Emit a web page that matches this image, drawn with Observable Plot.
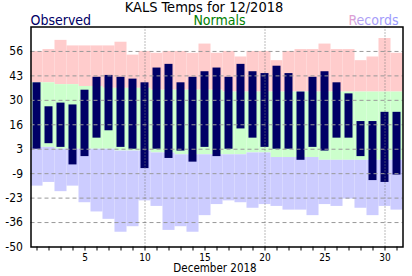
<!DOCTYPE html>
<html>
<head>
<meta charset="utf-8">
<script src="https://cdn.jsdelivr.net/npm/d3@7"></script>
<script src="https://cdn.jsdelivr.net/npm/@observablehq/plot@0.6"></script>
<style>
  html, body { margin: 0; padding: 0; background: #fff; }
  #chart { width: 412px; height: 276px; }
</style>
</head>
<body>
<div id="chart"></div>
<script>
// ---- data ----
const days = d3.range(1, 32);
const obsHigh = [39,26,28,27,35,42,43,42,41,39,47,49,39,42,45,47,42,49,45,44,48,44,34,42,45,39,33,18,18,23,23];
const obsLow  = [3,6,4,-5.5,-1,9,13,4,3,-7.5,3,-2,2,-4,4,-1,3,14,9,4,3,3,-3,4,2,9,9,-1,-14,-15,-11];
const recHigh = [56,57,62,59,59,59,59,61,54,56,55,56,56,55,60,55,56,53,56,56,51,56,57,57,60,57,57,51,53,63,55];
const recLow  = [-17,-15,-20,-17,-26,-31,-35,-42,-39,-25,-28,-41,-39,-42,-33,-27,-25,-26,-29,-27,-28,-30,-30,-33,-27,-28,-24,-29,-33,-28,-30];
const normHigh = [39,39,38,38,37,37,36,36,36,36,35,35,35,35,35,35,34,34,34,34,34,34,34,34,34,34,34,34,34,34,34];
const normLow  = [4,4,3,3,3,3,3,2,2,2,1,1,0,0,0,0,0,0,1,1,-1.5,-1.5,-1.5,-1.5,-3,-3,-3,-3,-3,-3,-3];
const yTickLabels = [-50,-36,-23,-9,3,16,30,43,56];
const xTickLabels = [5,10,15,20,25,30];
const dottedDays = [10,20,30];

// ---- build table ----
const data = days.map((day, i) => ({
  day, obsHigh: obsHigh[i], obsLow: obsLow[i], recHigh: recHigh[i], recLow: recLow[i],
  normHigh: normHigh[i], normLow: normLow[i]
}));

// evenly spaced y grid (axis spacing of the original chart)
const yMin = -50, yStep = 13.25;
const yTicks = yTickLabels.map((_, i) => yMin + i * yStep);
const yLabelAt = v => yTickLabels[Math.round((v - yMin) / yStep)];

const plot = Plot.plot({
  width: 412,
  height: 276,
  marginTop: 26.5,
  marginBottom: 29.5,
  marginLeft: 30.5,
  marginRight: 9.5,
  x: {domain: [0.5, 31.5]},
  y: {domain: [yMin, yMin + 9 * yStep]},
  style: {fontFamily: "'DejaVu Sans Condensed', 'DejaVu Sans', sans-serif", fontStretch: "condensed", color: "#000", background: "#fff"},
  marks: [
    Plot.rect(data, {x1: d => d.day - 0.5, x2: d => d.day + 0.5, y1: "normHigh", y2: "recHigh", fill: "#ffcccc"}),
    Plot.rect(data, {x1: d => d.day - 0.5, x2: d => d.day + 0.5, y1: "normLow", y2: "normHigh", fill: "#ccffcc"}),
    Plot.rect(data, {x1: d => d.day - 0.5, x2: d => d.day + 0.5, y1: "recLow", y2: "normLow", fill: "#ccccff"}),
    Plot.rect(data, {x1: d => d.day - 0.5, x2: d => d.day + 0.5, y1: "obsLow", y2: "obsHigh", fill: "#000066", insetLeft: 2, insetRight: 2}),
    Plot.ruleY(yTicks.slice(1), {stroke: "#999", strokeWidth: 1, strokeDasharray: "4,3"}),
    Plot.ruleX(dottedDays, {stroke: "#777", strokeWidth: 1, strokeDasharray: "1,2"}),
    Plot.axisY({ticks: yTicks, tickFormat: yLabelAt, tickSize: 0, tickPadding: 8, fontSize: 12, label: null}),
    Plot.axisX({ticks: days, tickFormat: d => xTickLabels.includes(d) ? String(d) : "", tickSize: 4, tickPadding: 2.5, fontSize: 10, label: null}),
    Plot.frame({stroke: "#000", strokeWidth: 1.5})
  ]
});
document.getElementById("chart").appendChild(plot);

// ---- titles / legend text ----
const svg = d3.select(plot);
const defs = svg.append("defs");
const grad = defs.append("linearGradient").attr("id", "recgrad").attr("x1", "0").attr("x2", "1").attr("y1", "0").attr("y2", "0");
grad.append("stop").attr("offset", "0").attr("stop-color", "#f0a0c8");
grad.append("stop").attr("offset", "0.25").attr("stop-color", "#b0a0f4");
grad.append("stop").attr("offset", "1").attr("stop-color", "#9999ff");

const tg = svg.append("g").attr("font-family", "'DejaVu Sans', sans-serif");
tg.append("text").attr("x", 204).attr("y", 12).attr("text-anchor", "middle").attr("font-size", 14.5).attr("fill", "#000").text("KALS Temps for 12/2018");
tg.append("text").attr("x", 30.5).attr("y", 24.5).attr("text-anchor", "start").attr("font-size", 14).attr("fill", "#000066").text("Observed");
tg.append("text").attr("x", 219.5).attr("y", 24.5).attr("text-anchor", "middle").attr("font-size", 14).attr("fill", "#008000").text("Normals");
tg.append("text").attr("x", 398.5).attr("y", 24.5).attr("text-anchor", "end").attr("font-size", 14).attr("fill", "url(#recgrad)").text("Records");
tg.append("text").attr("x", 215).attr("y", 272).attr("text-anchor", "middle").attr("font-size", 11.5)
  .attr("font-family", "'DejaVu Sans Condensed', 'DejaVu Sans', sans-serif").attr("font-stretch", "condensed").attr("fill", "#000").text("December 2018");
</script>
</body>
</html>
